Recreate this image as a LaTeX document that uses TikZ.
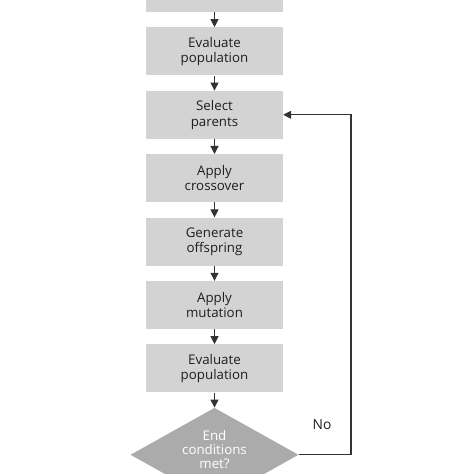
\documentclass[tikz,border=0pt]{standalone}
\usepackage{fontspec}
\setmainfont{Open Sans}
\usetikzlibrary{positioning,shapes.geometric,arrows.meta}

\definecolor{boxgray}{HTML}{D3D3D3}
\definecolor{diagray}{HTML}{ABABAB}
\definecolor{linegray}{HTML}{333333}
\definecolor{textgray}{HTML}{1E1E1E}

\tikzset{
  stepbox/.style={rectangle, fill=boxgray, minimum width=137pt, minimum height=48pt,
    inner sep=0pt, align=center, text=textgray,
    font=\fontsize{13.3}{15.5}\selectfont},
  decision/.style={diamond, fill=diagray, minimum width=168pt, minimum height=94pt,
    inner sep=0pt, aspect=1.8, align=center, text=white, text depth=10pt,
    font=\fontsize{13.3}{14}\selectfont},
  flow/.style={draw=linegray, line width=1.1pt, -{Triangle[length=8pt,width=8pt]}}
}

\begin{document}
\begin{tikzpicture}[x=1pt, y=1pt]
\useasboundingbox (0,0) rectangle (474,474);
\clip (0,0) rectangle (474,474);

% boxes of the loop
\node[stepbox] (init) at (214.5,486) {};
\node[stepbox, below=15pt of init] (eval1) {Evaluate\\population};
\node[stepbox, below=15pt of eval1] (select) {Select\\parents};
\node[stepbox, below=15pt of select] (cross) {Apply\\crossover};
\node[stepbox, below=15pt of cross] (offspring) {Generate\\offspring};
\node[stepbox, below=15pt of offspring] (mutate) {Apply\\mutation};
\node[stepbox, below=15pt of mutate] (eval2) {Evaluate\\population};
\node[decision, below=15pt of eval2] (stop) {End\\conditions\\met?};

% arrows down
\draw[flow] (init) -- (eval1);
\draw[flow] (eval1) -- (select);
\draw[flow] (select) -- (cross);
\draw[flow] (cross) -- (offspring);
\draw[flow] (offspring) -- (mutate);
\draw[flow] (mutate) -- (eval2);
\draw[flow] (eval2) -- (stop);

% back to selection
\coordinate (turn) at (351,0);
\draw[flow] (stop.east) -| (turn |- select.east) -- (select.east);
\node[font=\fontsize{13.8}{15}\selectfont, text=textgray] (no) at (322,49) {No};

\end{tikzpicture}
\end{document}
